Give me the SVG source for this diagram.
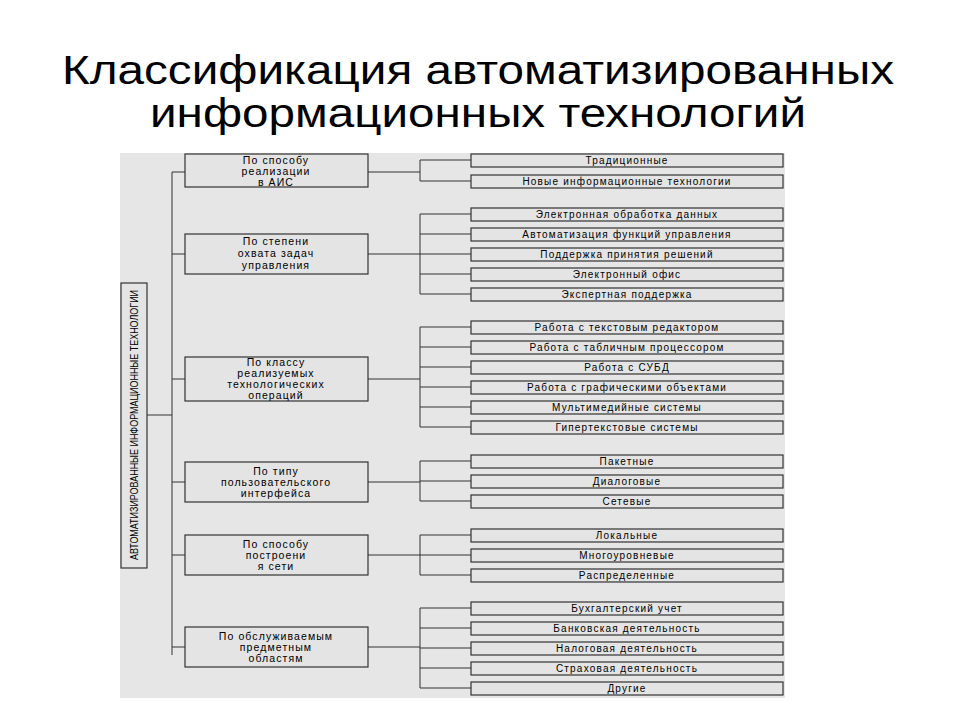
<svg xmlns="http://www.w3.org/2000/svg" width="960" height="720" viewBox="0 0 960 720">
<style>
.t{font-family:"Liberation Sans",Arial,sans-serif;fill:#000}
.title{font-size:41px;text-anchor:middle}
.bx{fill:#e4e4e4;stroke:#333;stroke-width:1.2}
.c{font-size:10.5px;text-anchor:middle;letter-spacing:1.1px}
.s{font-size:10px;text-anchor:middle;letter-spacing:1.2px}
.ln{stroke:#333;stroke-width:1;fill:none}
</style>
<rect width="960" height="720" fill="#fff"/>
<text class="t title" x="478" y="84" textLength="832" lengthAdjust="spacingAndGlyphs">Классификация автоматизированных</text>
<text class="t title" x="478" y="127" textLength="656" lengthAdjust="spacingAndGlyphs">информационных технологий</text>
<rect x="120" y="153" width="665" height="545" fill="#e6e6e6"/>
<g id="root"><rect class="bx" x="121" y="283" width="26" height="285"/>
<text class="t" font-size="11" text-anchor="middle" transform="translate(138,425) rotate(-90)" textLength="270" lengthAdjust="spacingAndGlyphs">АВТОМАТИЗИРОВАННЫЕ ИНФОРМАЦИОННЫЕ ТЕХНОЛОГИИ</text></g>
<g id="connectors" class="ln">
<path d="M147 415H172M172 172V655M172 172H185M172 254H185M172 379H185M172 482H185M172 555H185M172 647H185"/>
<path d="M368 172H420M420 160V181M420 160H471M420 181H471"/>
<path d="M368 254H420M420 214V294M420 214H471M420 234H471M420 254H471M420 274H471M420 294H471"/>
<path d="M368 379H420M420 327V427M420 327H471M420 347H471M420 367H471M420 387H471M420 407H471M420 427H471"/>
<path d="M368 482H420M420 461V501M420 461H471M420 481H471M420 501H471"/>
<path d="M368 555H420M420 535V575M420 535H471M420 555H471M420 575H471"/>
<path d="M368 647H420M420 608V688M420 608H471M420 628H471M420 648H471M420 668H471M420 688H471"/>
</g>
<g id="cat1"><rect class="bx" x="185" y="154" width="183" height="33"/><text class="t c" x="276" y="164">По способу</text><text class="t c" x="276" y="175">реализации</text><text class="t c" x="276" y="186">в АИС</text></g>
<g id="cat2"><rect class="bx" x="185" y="234" width="183" height="40"/><text class="t c" x="276" y="245">По степени</text><text class="t c" x="276" y="257">охвата задач</text><text class="t c" x="276" y="269">управления</text></g>
<g id="cat3"><rect class="bx" x="185" y="357" width="183" height="44"/><text class="t c" x="276" y="366">По классу</text><text class="t c" x="276" y="377">реализуемых</text><text class="t c" x="276" y="388">технологических</text><text class="t c" x="276" y="399">операций</text></g>
<g id="cat4"><rect class="bx" x="185" y="462" width="183" height="40"/><text class="t c" x="276" y="475">По типу</text><text class="t c" x="276" y="486">пользовательского</text><text class="t c" x="276" y="497">интерфейса</text></g>
<g id="cat5"><rect class="bx" x="185" y="535" width="183" height="40"/><text class="t c" x="276" y="548">По способу</text><text class="t c" x="276" y="559">построени</text><text class="t c" x="276" y="570">я сети</text></g>
<g id="cat6"><rect class="bx" x="185" y="627" width="183" height="40"/><text class="t c" x="276" y="640">По обслуживаемым</text><text class="t c" x="276" y="651">предметным</text><text class="t c" x="276" y="662">областям</text></g>
<g id="items">
<g id="i1"><rect class="bx" x="471" y="154" width="312" height="13"/><text class="t s" x="627" y="164">Традиционные</text></g>
<g id="i2"><rect class="bx" x="471" y="175" width="312" height="13"/><text class="t s" x="627" y="185">Новые информационные технологии</text></g>
<g id="i3"><rect class="bx" x="471" y="208" width="312" height="13"/><text class="t s" x="627" y="218">Электронная обработка данных</text></g>
<g id="i4"><rect class="bx" x="471" y="228" width="312" height="13"/><text class="t s" x="627" y="238">Автоматизация функций управления</text></g>
<g id="i5"><rect class="bx" x="471" y="248" width="312" height="13"/><text class="t s" x="627" y="258">Поддержка принятия решений</text></g>
<g id="i6"><rect class="bx" x="471" y="268" width="312" height="13"/><text class="t s" x="627" y="278">Электронный офис</text></g>
<g id="i7"><rect class="bx" x="471" y="288" width="312" height="13"/><text class="t s" x="627" y="298">Экспертная поддержка</text></g>
<g id="i8"><rect class="bx" x="471" y="321" width="312" height="13"/><text class="t s" x="627" y="331">Работа с текстовым редактором</text></g>
<g id="i9"><rect class="bx" x="471" y="341" width="312" height="13"/><text class="t s" x="627" y="351">Работа с табличным процессором</text></g>
<g id="i10"><rect class="bx" x="471" y="361" width="312" height="13"/><text class="t s" x="627" y="371">Работа с СУБД</text></g>
<g id="i11"><rect class="bx" x="471" y="381" width="312" height="13"/><text class="t s" x="627" y="391">Работа с графическими объектами</text></g>
<g id="i12"><rect class="bx" x="471" y="401" width="312" height="13"/><text class="t s" x="627" y="411">Мультимедийные системы</text></g>
<g id="i13"><rect class="bx" x="471" y="421" width="312" height="13"/><text class="t s" x="627" y="431">Гипертекстовые системы</text></g>
<g id="i14"><rect class="bx" x="471" y="455" width="312" height="13"/><text class="t s" x="627" y="465">Пакетные</text></g>
<g id="i15"><rect class="bx" x="471" y="475" width="312" height="13"/><text class="t s" x="627" y="485">Диалоговые</text></g>
<g id="i16"><rect class="bx" x="471" y="495" width="312" height="13"/><text class="t s" x="627" y="505">Сетевые</text></g>
<g id="i17"><rect class="bx" x="471" y="529" width="312" height="13"/><text class="t s" x="627" y="539">Локальные</text></g>
<g id="i18"><rect class="bx" x="471" y="549" width="312" height="13"/><text class="t s" x="627" y="559">Многоуровневые</text></g>
<g id="i19"><rect class="bx" x="471" y="569" width="312" height="13"/><text class="t s" x="627" y="579">Распределенные</text></g>
<g id="i20"><rect class="bx" x="471" y="602" width="312" height="13"/><text class="t s" x="627" y="612">Бухгалтерский учет</text></g>
<g id="i21"><rect class="bx" x="471" y="622" width="312" height="13"/><text class="t s" x="627" y="632">Банковская деятельность</text></g>
<g id="i22"><rect class="bx" x="471" y="642" width="312" height="13"/><text class="t s" x="627" y="652">Налоговая деятельность</text></g>
<g id="i23"><rect class="bx" x="471" y="662" width="312" height="13"/><text class="t s" x="627" y="672">Страховая деятельность</text></g>
<g id="i24"><rect class="bx" x="471" y="682" width="312" height="13"/><text class="t s" x="627" y="692">Другие</text></g>
</g>
</svg>
